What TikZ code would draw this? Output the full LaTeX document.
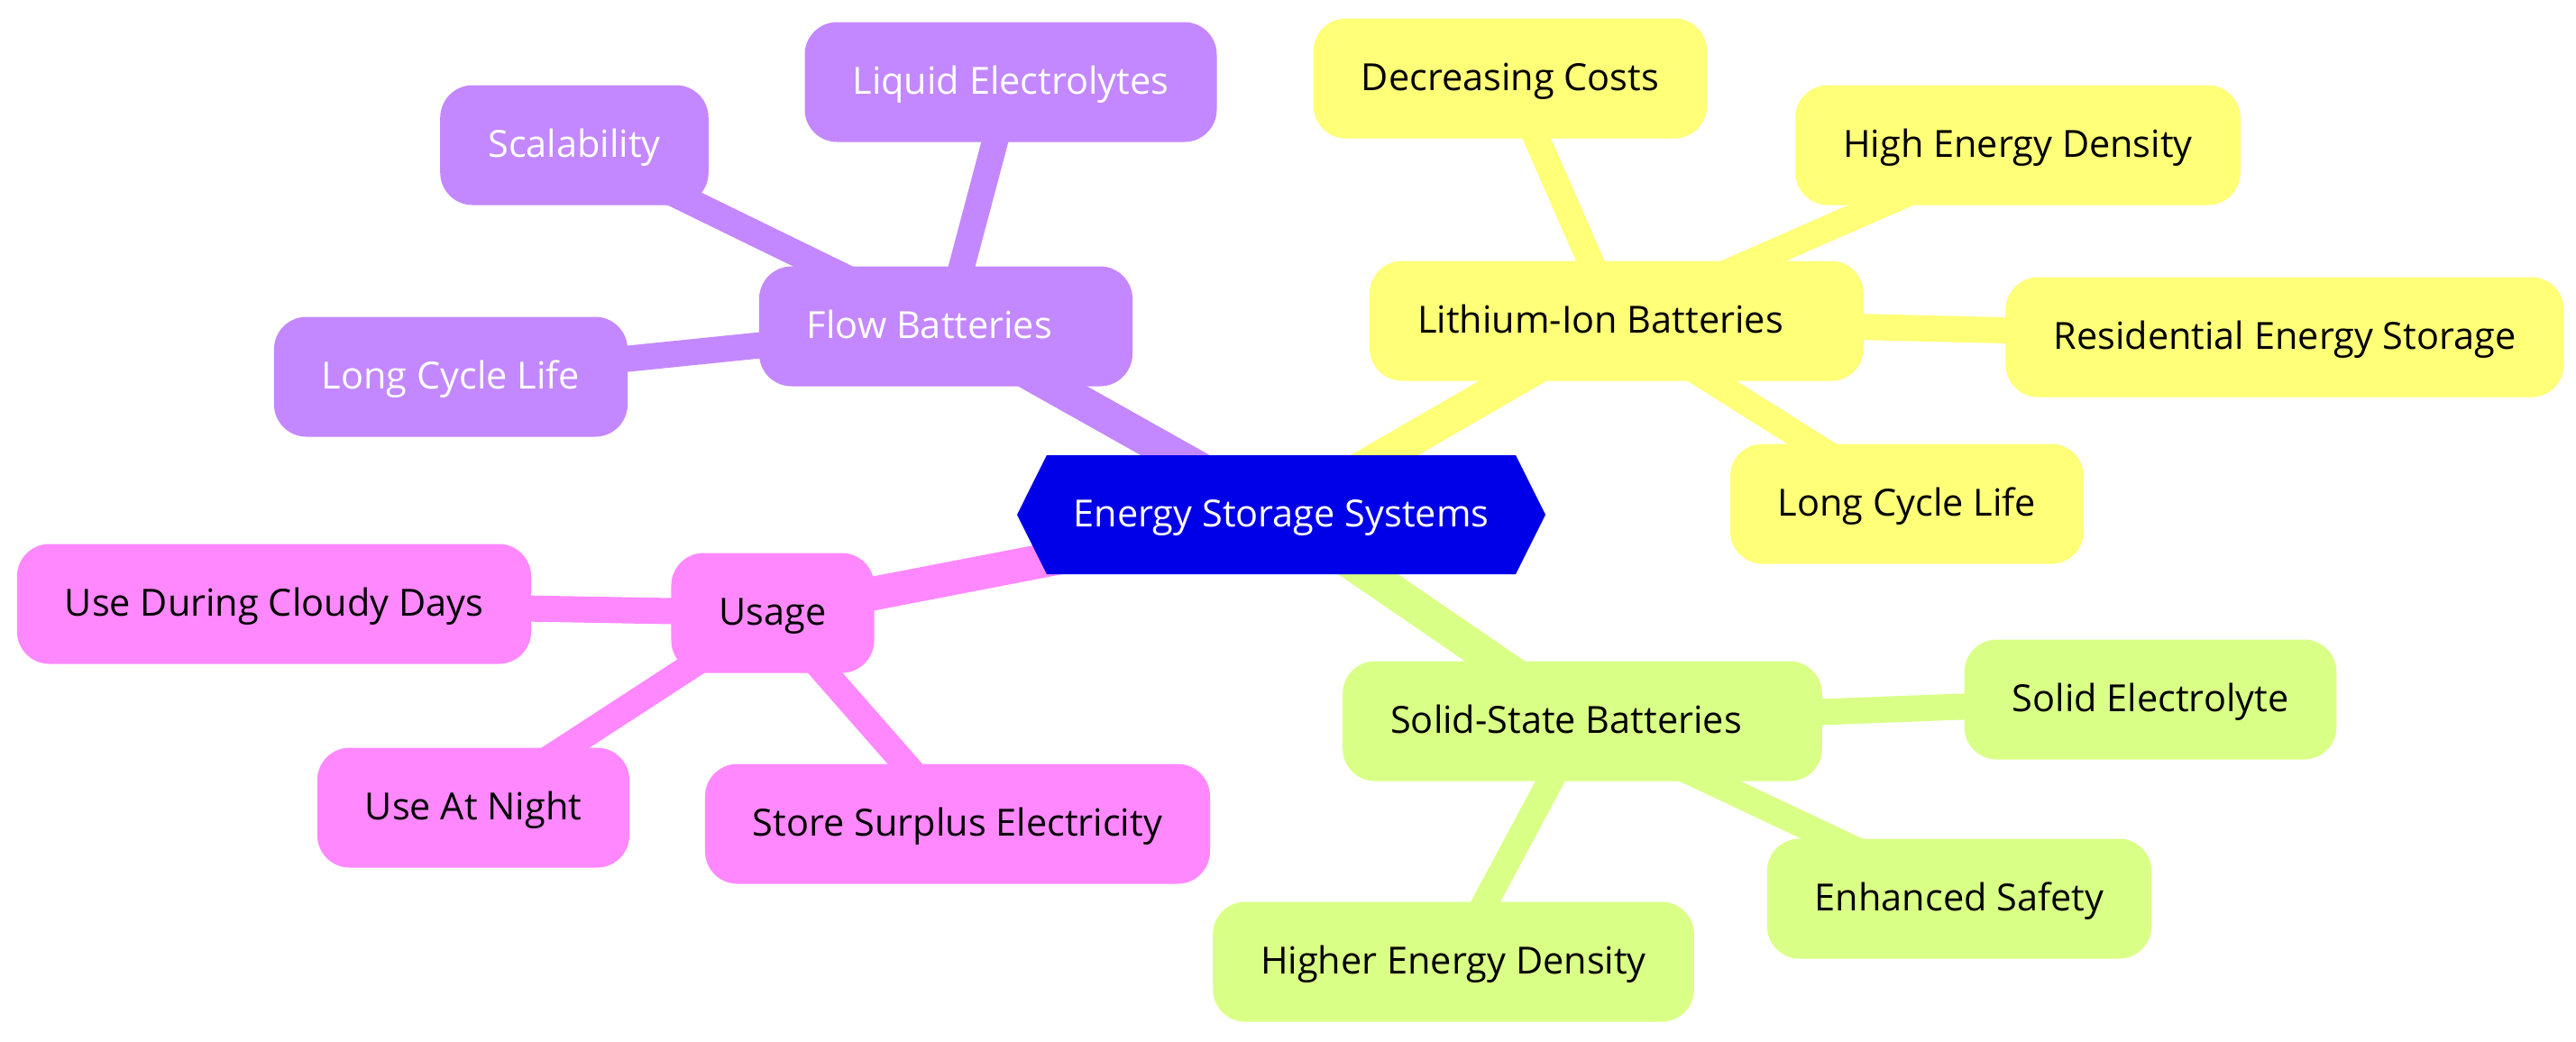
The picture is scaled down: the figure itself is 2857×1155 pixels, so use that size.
\documentclass[tikz,border=0pt]{standalone}
\usepackage{fontspec}
\setmainfont{Open Sans}
\usetikzlibrary{shapes.symbols}
\definecolor{cpurple}{RGB}{195,136,255}
\definecolor{cyellow}{RGB}{255,255,120}
\definecolor{cpink}{RGB}{255,136,255}
\definecolor{clime}{RGB}{218,255,134}
\definecolor{croot}{RGB}{0,0,232}
\pgfdeclarelayer{bg}
\pgfsetlayers{bg,main}
\tikzset{
  txt/.style={font=\fontsize{11.8pt}{14pt}\selectfont, text height=1.069em, text depth=0.293em},
  box/.style={txt, rounded corners=3.6mm, minimum height=13.3mm, inner xsep=5.3mm, inner ysep=0pt},
  pbox/.style={box, fill=cpurple, text=white},
  ybox/.style={box, fill=cyellow, text=black},
  kbox/.style={box, fill=cpink, text=black},
  lbox/.style={box, fill=clime, text=black},
  widebox/.style={execute at end node={\hspace*{3.6mm}}},
  ezero/.style={line width=3.75mm},
  eone/.style={line width=2.9mm},
}
\begin{document}
\begin{tikzpicture}[x=0.1mm, y=-0.1mm]
\useasboundingbox (0,0) rectangle (2857,1155);
% root
\node[signal, signal to=west and east, signal pointer angle=127, fill=croot, text=white,
      minimum width=58.6mm, minimum height=13.2mm, inner sep=0pt, txt] (root) at (1421,571) {Energy Storage Systems};
% purple
\node[pbox, widebox] (flow) at (1049,362) {Flow Batteries};
\node[pbox] (liquid) at (1121,91) {Liquid Electrolytes};
\node[pbox] (scal) at (637,161) {Scalability};
\node[pbox] (lclp) at (500,418) {Long Cycle Life};
% yellow
\node[ybox, widebox] (lith) at (1793,356) {Lithium-Ion Batteries};
\node[ybox] (dec) at (1675,87) {Decreasing Costs};
\node[ybox] (hed) at (2238,161) {High Energy Density};
\node[ybox] (res) at (2534,374) {Residential Energy Storage};
\node[ybox] (lcly) at (2115,559) {Long Cycle Life};
% pink
\node[kbox] (usage) at (857,680) {Usage};
\node[kbox] (cloudy) at (304,670) {Use During Cloudy Days};
\node[kbox] (night) at (525,896) {Use At Night};
\node[kbox] (surplus) at (1062,914) {Store Surplus Electricity};
% lime
\node[lbox, widebox] (solid) at (1755,800) {Solid-State Batteries};
\node[lbox] (selec) at (2385,776) {Solid Electrolyte};
\node[lbox] (safety) at (2173,997) {Enhanced Safety};
\node[lbox] (higher) at (1612,1067) {Higher Energy Density};
\begin{pgfonlayer}{bg}
\draw[ezero, cpurple] (root.center) -- (flow.center);
\draw[eone, cpurple] (flow.center) -- (liquid.center);
\draw[eone, cpurple] (flow.center) -- (scal.center);
\draw[eone, cpurple] (flow.center) -- (lclp.center);
\draw[ezero, cyellow] (root.center) -- (lith.center);
\draw[eone, cyellow] (lith.center) -- (dec.center);
\draw[eone, cyellow] (lith.center) -- (hed.center);
\draw[eone, cyellow] (lith.center) -- (res.center);
\draw[eone, cyellow] (lith.center) -- (lcly.center);
\draw[ezero, cpink] (root.center) -- (usage.center);
\draw[eone, cpink] (usage.center) -- (cloudy.center);
\draw[eone, cpink] (usage.center) -- (night.center);
\draw[eone, cpink] (usage.center) -- (surplus.center);
\draw[ezero, clime] (root.center) -- (solid.center);
\draw[eone, clime] (solid.center) -- (selec.center);
\draw[eone, clime] (solid.center) -- (safety.center);
\draw[eone, clime] (solid.center) -- (higher.center);
\end{pgfonlayer}
\end{tikzpicture}
\end{document}
